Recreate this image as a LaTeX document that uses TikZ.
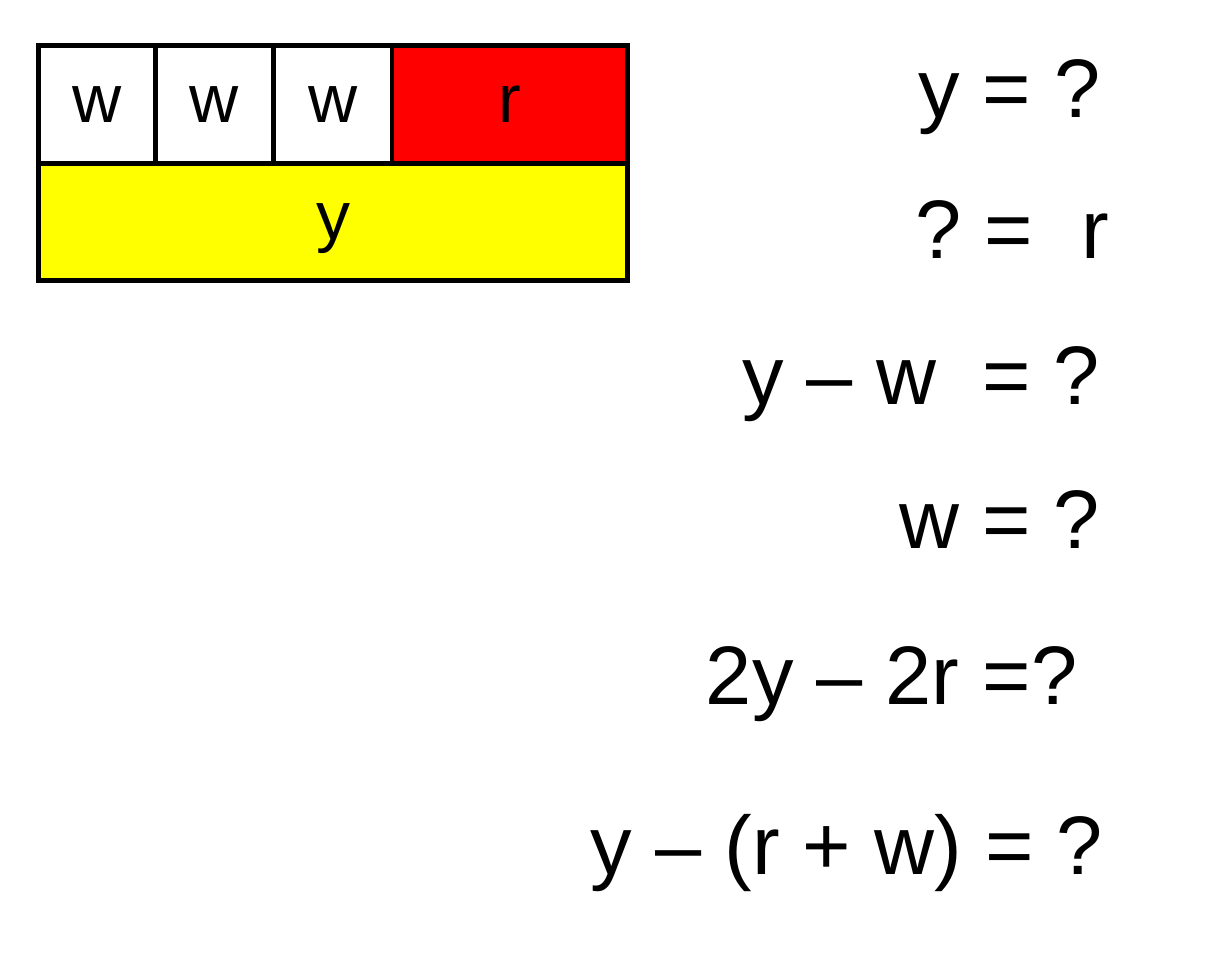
\documentclass[tikz,border=0pt]{standalone}
\usepackage{fontspec}
\setmainfont{Liberation Sans}
\definecolor{barred}{RGB}{255,0,0}
\definecolor{baryellow}{RGB}{255,255,0}
\begin{document}
\begin{tikzpicture}[x=0.5pt,y=-0.5pt,
  cell/.style={draw=black,line width=2.3pt,inner sep=0pt,
    text depth=0pt,font=\fontsize{34}{40}\selectfont},
  eq/.style={anchor=base west,inner sep=0pt,font=\fontsize{41.5}{50}\selectfont}]
\useasboundingbox[fill=white] (0,0) rectangle (1226,974);
% bar model
\node[cell,fill=baryellow,minimum width=294.5pt,minimum height=58.5pt] (ybar) at (333,222) {y};
\node[cell,fill=white,minimum width=58.5pt,minimum height=59pt] (w1) at (97,104.5) {w};
\node[cell,fill=white,minimum width=59pt,minimum height=59pt] (w2) at (214.5,104.5) {w};
\node[cell,fill=white,minimum width=59.25pt,minimum height=59pt] (w3) at (332.75,104.5) {w};
\node[cell,fill=barred,minimum width=117.75pt,minimum height=59pt] (rbar) at (509.75,104.5) {r};
% equations
\node[eq] (e1) at (918,118) {y = ?};
\node[eq] (e2) at (915,258) {?\ =\ \ \kern1pt r};
\node[eq] (e3) at (742,404) {y – w\ \ = ?};
\node[eq] (e4) at (899,548) {w = ?};
\node[eq] (e5) at (705.5,704) {2y – 2r =?};
\node[eq] (e6) at (590.5,874) {y – (r + w) = ?};
\end{tikzpicture}
\end{document}
